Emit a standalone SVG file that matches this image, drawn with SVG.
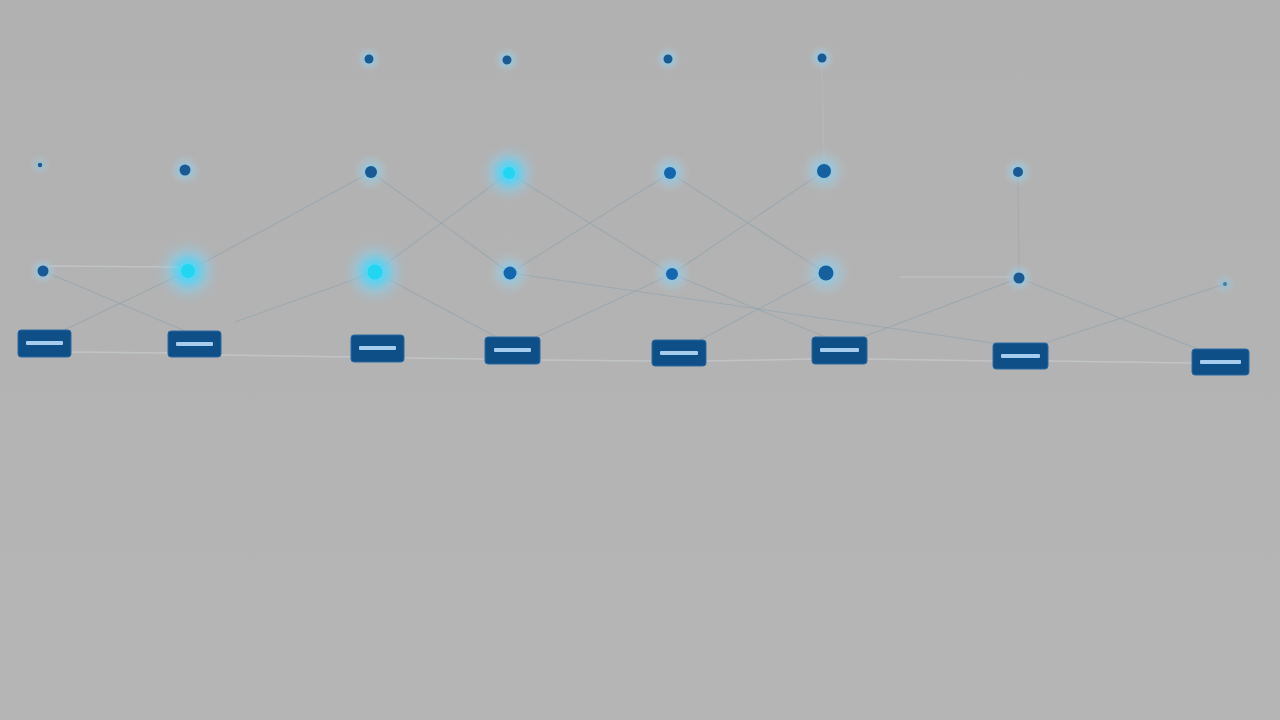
<svg xmlns="http://www.w3.org/2000/svg" width="1280" height="720" viewBox="0 0 1280 720">
<defs>
<radialGradient id="glowSoft"><stop offset="0" stop-color="#5fd0ff" stop-opacity="0.9"/><stop offset="0.4" stop-color="#8fd2f2" stop-opacity="0.5"/><stop offset="0.75" stop-color="#a9cfe0" stop-opacity="0.15"/><stop offset="1" stop-color="#b3b3b3" stop-opacity="0"/></radialGradient>
<radialGradient id="glowHot"><stop offset="0" stop-color="#30e6ff" stop-opacity="1"/><stop offset="0.3" stop-color="#4fd8ff" stop-opacity="0.75"/><stop offset="0.6" stop-color="#8ad2f0" stop-opacity="0.35"/><stop offset="1" stop-color="#b3b3b3" stop-opacity="0"/></radialGradient>
<linearGradient id="bg" x1="0" y1="0" x2="0" y2="1"><stop offset="0" stop-color="#b1b1b1"/><stop offset="1" stop-color="#b5b5b5"/></linearGradient>
<style>
.e{stroke:#8fa3ad;stroke-width:1.1;fill:none;opacity:0.6}
.f{stroke:#d2dade;stroke-width:1.5;fill:none;opacity:0.45}
.d{fill:#1a5a94}
.h{fill:#22d6f2}
.box{fill:#0f4f88;stroke:#2b6aa3;stroke-width:1}
.bar{fill:#a6cdee}
</style>
</defs>
<rect width="1280" height="720" fill="url(#bg)"/>
<g id="connectors">
<line class="f" x1="70" y1="352" x2="168" y2="353"/>
<line class="f" x1="221" y1="355" x2="351" y2="357"/>
<line class="f" x1="404" y1="358" x2="486" y2="359"/>
<line class="f" x1="540" y1="360" x2="652" y2="361"/>
<line class="f" x1="706" y1="361" x2="812" y2="359"/>
<line class="f" x1="867" y1="359" x2="993" y2="361"/>
<line class="f" x1="1048" y1="361" x2="1192" y2="363"/>
<line class="f" x1="48" y1="266" x2="180" y2="267"/>
<line class="f" x1="900" y1="277" x2="1010" y2="277" style="opacity:0.3"/>
<line class="e" x1="43" y1="271" x2="190" y2="333"/>
<line class="e" x1="62" y1="331" x2="188" y2="271"/>
<line class="e" x1="188" y1="271" x2="371" y2="172"/>
<line class="e" x1="235" y1="322" x2="375" y2="272"/>
<line class="e" x1="371" y1="172" x2="510" y2="273"/>
<line class="e" x1="375" y1="272" x2="500" y2="339"/>
<line class="e" x1="375" y1="272" x2="509" y2="173"/>
<line class="e" x1="509" y1="173" x2="672" y2="274"/>
<line class="e" x1="532" y1="339" x2="672" y2="274"/>
<line class="e" x1="510" y1="273" x2="670" y2="173"/>
<line class="e" x1="510" y1="273" x2="1000" y2="344"/>
<line class="e" x1="670" y1="173" x2="826" y2="273"/>
<line class="e" x1="824" y1="171" x2="672" y2="274"/>
<line class="e" x1="672" y1="274" x2="830" y2="339"/>
<line class="e" x1="700" y1="340" x2="826" y2="273"/>
<line class="e" x1="860" y1="338" x2="1019" y2="278"/>
<line class="e" x1="1019" y1="278" x2="1200" y2="350"/>
<line class="e" x1="1045" y1="343" x2="1225" y2="284"/>
<line class="e" x1="1018" y1="172" x2="1019" y2="278" style="opacity:0.4"/>
<line class="f" x1="822" y1="62" x2="824" y2="162" style="opacity:0.12"/>
</g>
<g id="node-t1"><circle cx="369" cy="59" r="14" fill="url(#glowSoft)"/><circle class="d" cx="369" cy="59" r="4.5"/></g>
<g id="node-t2"><circle cx="507" cy="60" r="14" fill="url(#glowSoft)"/><circle class="d" cx="507" cy="60" r="4.5"/></g>
<g id="node-t3"><circle cx="668" cy="59" r="14" fill="url(#glowSoft)"/><circle class="d" cx="668" cy="59" r="4.5"/></g>
<g id="node-t4"><circle cx="822" cy="58" r="14" fill="url(#glowSoft)"/><circle class="d" cx="822" cy="58" r="4.5"/></g>
<g id="node-m0"><circle cx="40" cy="165" r="12" fill="url(#glowSoft)" opacity="0.5"/><circle class="d" cx="40" cy="165" r="2.2"/></g>
<g id="node-m1"><circle cx="185" cy="170" r="17" fill="url(#glowSoft)"/><circle class="d" cx="185" cy="170" r="5.5"/></g>
<g id="node-m2"><circle cx="371" cy="172" r="20" fill="url(#glowSoft)"/><circle class="d" cx="371" cy="172" r="6"/></g>
<g id="node-m3"><circle cx="509" cy="173" r="32" fill="url(#glowHot)"/><circle class="h" cx="509" cy="173" r="6"/></g>
<g id="node-m4"><circle cx="670" cy="173" r="22" fill="url(#glowSoft)"/><circle fill="#1466ad" cx="670" cy="173" r="6"/></g>
<g id="node-m5"><circle cx="824" cy="171" r="25" fill="url(#glowSoft)"/><circle fill="#15609f" cx="824" cy="171" r="7"/></g>
<g id="node-m6"><circle cx="1018" cy="172" r="16" fill="url(#glowSoft)"/><circle class="d" cx="1018" cy="172" r="5"/></g>
<g id="node-l0"><circle cx="43" cy="271" r="15" fill="url(#glowSoft)"/><circle class="d" cx="43" cy="271" r="5.5"/></g>
<g id="node-l1"><circle cx="188" cy="271" r="36" fill="url(#glowHot)"/><circle class="h" cx="188" cy="271" r="7"/></g>
<g id="node-l2"><circle cx="375" cy="272" r="36" fill="url(#glowHot)"/><circle class="h" cx="375" cy="272" r="7.5"/></g>
<g id="node-l3"><circle cx="510" cy="273" r="24" fill="url(#glowSoft)"/><circle fill="#1466ad" cx="510" cy="273" r="6.5"/></g>
<g id="node-l4"><circle cx="672" cy="274" r="22" fill="url(#glowSoft)"/><circle fill="#1466ad" cx="672" cy="274" r="6"/></g>
<g id="node-l5"><circle cx="826" cy="273" r="27" fill="url(#glowSoft)"/><circle fill="#15609f" cx="826" cy="273" r="7.5"/></g>
<g id="node-l6"><circle cx="1019" cy="278" r="16" fill="url(#glowSoft)"/><circle class="d" cx="1019" cy="278" r="5.5"/></g>
<g id="node-l7"><circle cx="1225" cy="284" r="13" fill="url(#glowSoft)" opacity="0.5"/><circle fill="#4a7a9e" cx="1225" cy="284" r="2"/></g>
<g id="box-0"><rect class="box" x="18" y="330" width="53" height="27" rx="3"/><rect class="bar" x="26" y="341" width="37" height="4" rx="1"/></g>
<g id="box-1"><rect class="box" x="168" y="331" width="53" height="26" rx="3"/><rect class="bar" x="176" y="342" width="37" height="4" rx="1"/></g>
<g id="box-2"><rect class="box" x="351" y="335" width="53" height="27" rx="3"/><rect class="bar" x="359" y="346" width="37" height="4" rx="1"/></g>
<g id="box-3"><rect class="box" x="485" y="337" width="55" height="27" rx="3"/><rect class="bar" x="494" y="348" width="37" height="4" rx="1"/></g>
<g id="box-4"><rect class="box" x="652" y="340" width="54" height="26" rx="3"/><rect class="bar" x="660" y="351" width="38" height="4" rx="1"/></g>
<g id="box-5"><rect class="box" x="812" y="337" width="55" height="27" rx="3"/><rect class="bar" x="820" y="348" width="39" height="4" rx="1"/></g>
<g id="box-6"><rect class="box" x="993" y="343" width="55" height="26" rx="3"/><rect class="bar" x="1001" y="354" width="39" height="4" rx="1"/></g>
<g id="box-7"><rect class="box" x="1192" y="349" width="57" height="26" rx="3"/><rect class="bar" x="1200" y="360" width="41" height="4" rx="1"/></g>
</svg>
